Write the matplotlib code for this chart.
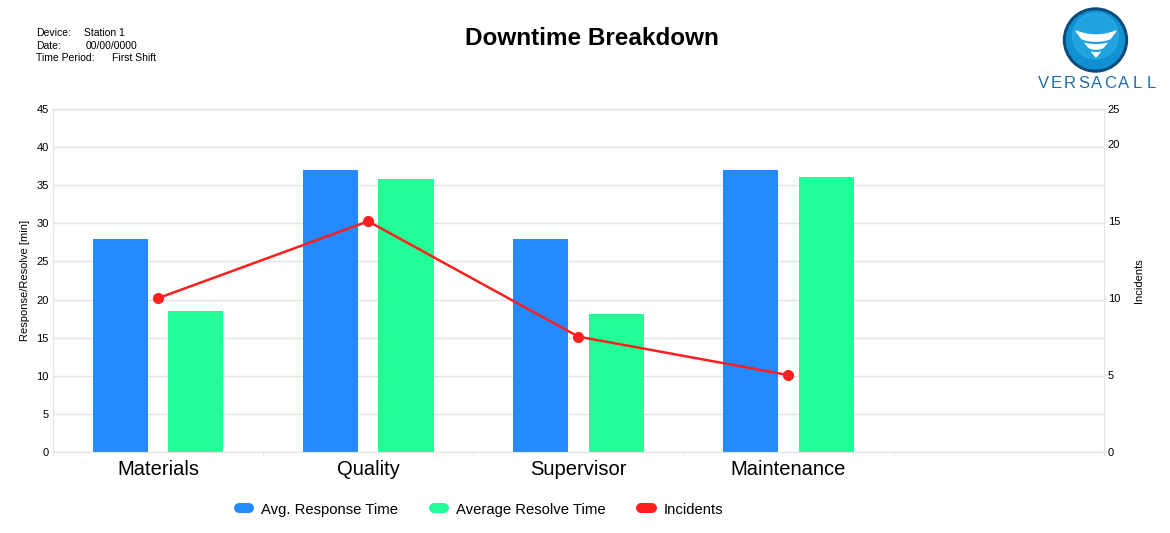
import matplotlib.pyplot as plt
import numpy as np
from matplotlib.lines import Line2D
from matplotlib.patches import Circle, Polygon

plt.rcParams['font.family'] = ['Liberation Sans', 'DejaVu Sans']

categories = ['Materials', 'Quality', 'Supervisor', 'Maintenance']
response_time = [28, 37, 28, 37]
resolve_time = [18.5, 35.8, 18.1, 36.1]
incidents = [10, 15, 7.5, 5]

c_blue = '#2589ff'
c_green = '#22ff98'
c_red = '#ff1f1f'
c_grid = '#e4e4e4'

fig = plt.figure(figsize=(11.7, 5.33), dpi=100)
ax = fig.add_axes([0.0453, 0.152, 0.898, 0.6435])

x = np.arange(len(categories))
bw = 0.262
ax.bar(x - 0.18, response_time, bw, color=c_blue, zorder=2)
ax.bar(x + 0.18, resolve_time, bw, color=c_green, zorder=2)

ax.set_xlim(-0.5, 4.5)
ax.set_ylim(0, 45)
ax.set_yticks(np.arange(0, 46, 5))
ax.set_xticks(x)
ax.set_xticklabels(categories, fontsize=14.5)
ax.set_xticks(np.arange(-0.5, 4.6, 1), minor=True)
ax.tick_params(axis='x', which='major', length=0, pad=6)
ax.tick_params(axis='x', which='minor', length=3, color=c_grid)
ax.tick_params(axis='y', labelsize=8, length=0, pad=3)
ax.grid(axis='y', color=c_grid, lw=1, zorder=0)
for s in ax.spines.values():
    s.set_color(c_grid)
ax.set_ylabel('Response/Resolve [min]', fontsize=8, labelpad=5)

ax2 = ax.twinx()
ax2.plot(x, incidents, color=c_red, lw=1.8, marker='o', markersize=7, zorder=3)
ax2.set_ylim(0, 22.3)
ax2.set_yticks([0, 5, 10, 15, 20, 22.3])
ax2.set_yticklabels(['0', '5', '10', '15', '20', '25'])
ax2.tick_params(axis='y', labelsize=8, length=2, color=c_grid, pad=1)
for s in ax2.spines.values():
    s.set_color(c_grid)
ax2.set_ylabel('Incidents', fontsize=8, labelpad=10)

fig.text(0.506, 0.928, 'Downtime Breakdown', ha='center', va='center',
         fontsize=17.5, fontweight='bold')

hdr = [('Device:', 'Station 1', 0.0718), ('Date:', '00/00/0000', 0.0735),
       ('Time Period:', 'First Shift', 0.0957)]
for i, (k, v, xv) in enumerate(hdr):
    yy = 0.938 - i * 0.0235
    fig.text(0.031, yy, k, fontsize=7.5, va='center')
    fig.text(xv, yy, v, fontsize=7.5, va='center')

handles = [Line2D([0], [0], color=c, lw=7.2, solid_capstyle='round')
           for c in (c_blue, c_green, c_red)]
fig.legend(handles, ['Avg. Response Time', 'Average Resolve Time', 'Incidents'],
           loc='center', bbox_to_anchor=(0.411, 0.044), ncol=3, frameon=False,
           fontsize=10.7, handlelength=0.7, columnspacing=2.4, handletextpad=0.8)

# logo, drawn in pixel coordinates on an overlay axes
lax = fig.add_axes([0, 0, 1, 1], zorder=-1)
lax.set_xlim(0, 1170)
lax.set_ylim(533, 0)
lax.axis('off')
lax.add_patch(Circle((1095.5, 40), 32, color='#0b4a7c'))
lax.add_patch(Circle((1095.5, 40), 29, color='#1190d2'))
lax.add_patch(Circle((1095.5, 36), 23, color='#2fb0ea', alpha=0.6))
tx = np.linspace(1076, 1116, 30)
top = 31 + 4 * (1 - ((tx - 1096) / 20) ** 2)
lax.add_patch(Polygon(np.column_stack([np.r_[tx, 1096], np.r_[top, 57]]),
                      color='white'))
# blue gaps across the white chevron
for yb, half in ((40, 16), (48, 10)):
    bx = np.linspace(1096 - half, 1096 + half, 20)
    lax.plot(bx, yb + 3 * (1 - ((bx - 1096) / half) ** 2), color='#22a4e2',
             lw=1.6, solid_capstyle='butt')
for i, ch in enumerate('VERSACALL'):
    lax.text(1043 + i * 13.5, 83, ch, ha='center', va='center', fontsize=12,
             color='#1f6ea6')

fig.savefig('out.png', dpi=100)
